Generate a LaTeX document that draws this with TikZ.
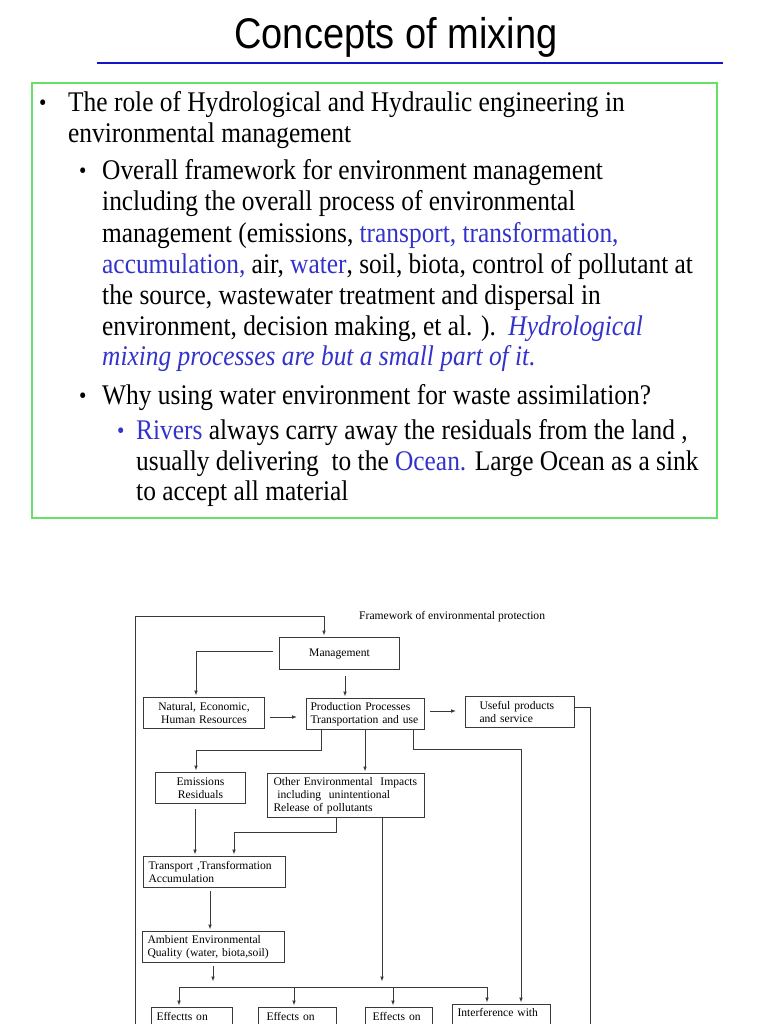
\documentclass[tikz,border=0pt]{standalone}
\usepackage{fontspec}
\setmainfont{Liberation Serif}
\newfontfamily\titlefont{Liberation Sans}
\usetikzlibrary{arrows.meta}
\definecolor{txtblue}{HTML}{3333CC}
\definecolor{ruleblue}{HTML}{1515C8}
\definecolor{framegreen}{HTML}{66E066}
\definecolor{lngray}{HTML}{3A3A3A}
\newcommand{\tallx}[1]{\scalebox{1}[1.12]{#1}}
\begin{document}
\begin{tikzpicture}[x=1pt,y=-1pt,
  bodyline/.style={anchor=base west, inner sep=0pt, font=\fontsize{25.4}{30}\selectfont},
  bul/.style={anchor=base west, inner sep=0pt, font=\fontsize{21}{24}\selectfont},
  dbox/.style={draw=lngray, line width=1pt, anchor=north west, inner ysep=0pt,
    font=\fontsize{11.6}{13.2}\selectfont, text=black},
  lbox/.style={dbox, align=left},
  cbox/.style={dbox, align=center},
  conn/.style={draw=lngray, line width=1pt},
  arr/.style={conn, -{Latex[length=5pt,width=3.8pt]}, shorten >=1.5pt}
]
\useasboundingbox (0,0) rectangle (768,1024);
\clip (0,0) rectangle (768,1024);
\fill[white] (0,0) rectangle (768,1024);

% title
\node[inner sep=0pt, font=\titlefont\fontsize{38}{44}\selectfont] (title) at (396,37) {\scalebox{1}[1.13]{Concepts of mixing}};
\coordinate (ruleL) at (97,63);
\coordinate (ruleR) at (723,63);
\draw[ruleblue, line width=2pt] (ruleL) -- (ruleR);

% text frame
\draw[framegreen, line width=1.3pt] (32,83) rectangle (717,518);

\node[bul] (b1) at (39,111) {\tallx{•}};
\node[bodyline] (l1) at (68,112) {\tallx{The role of Hydrological and Hydraulic engineering in}};
\node[bodyline] (l2) at (68,143) {\tallx{environmental management}};
\node[bul] (b2) at (79,179) {\tallx{•}};
\node[bodyline] (l3) at (102,180) {\tallx{Overall framework for environment management}};
\node[bodyline] (l4) at (102,211) {\tallx{including the overall process of environmental}};
\node[bodyline] (l5) at (102,242) {\tallx{management (emissions, \textcolor{txtblue}{transport, transformation,}}};
\node[bodyline] (l6) at (102,273) {\tallx{\textcolor{txtblue}{accumulation,} air, \textcolor{txtblue}{water}, soil, biota, control of pollutant at}};
\node[bodyline] (l7) at (102,304) {\tallx{the source, wastewater treatment and dispersal in}};
\node[bodyline] (l8) at (102,335) {\tallx{environment, decision making, et al. ).\ \ \textcolor{txtblue}{\itshape Hydrological}}};
\node[bodyline] (l9) at (102,365) {\tallx{\textcolor{txtblue}{\itshape mixing processes are but a small part of it.}}};
\node[bul] (b3) at (79,403) {\tallx{•}};
\node[bodyline] (l10) at (102,404) {\tallx{Why using water environment for waste assimilation?}};
\node[bul, text=txtblue] (b4) at (117,438) {\tallx{•}};
\node[bodyline] (l11) at (136,439) {\tallx{\textcolor{txtblue}{Rivers} always carry away the residuals from the land ,}};
\node[bodyline] (l12) at (136,470) {\tallx{usually delivering\ \ to the \textcolor{txtblue}{Ocean.} Large Ocean as a sink}};
\node[bodyline] (l13) at (136,500) {\tallx{to accept all material}};

% diagram caption
\node[anchor=west, inner sep=0pt, font=\fontsize{11.6}{13}\selectfont] (cap) at (359,617) {Framework of environmental protection};

% boxes
\node[cbox, minimum height=32pt, text width=116pt, inner xsep=2pt] (mgmt) at (279,637) {Management};
\node[cbox, minimum height=31pt, text width=117pt, inner xsep=2pt] (nat) at (143,697) {Natural, Economic,\\Human Resources};
\node[lbox, minimum height=31pt, text width=110pt, inner xsep=4pt] (prod) at (306,698) {Production Processes\\Transportation and use};
\node[lbox, minimum height=31pt, text width=81pt, inner xsep=14pt] (use) at (465,696) {Useful products\\and service};
\node[cbox, minimum height=31pt, text width=86pt, inner xsep=2pt] (emis) at (155,772) {Emissions\\Residuals};
\node[lbox, minimum height=44pt, text width=145pt, inner xsep=6pt] (other) at (267,773) {Other Environmental\ \ Impacts\\\ including\ \ unintentional\\Release of pollutants};
\node[lbox, minimum height=31pt, text width=132pt, inner xsep=5pt] (trans) at (143,856) {Transport ,Transformation\\Accumulation};
\node[lbox, minimum height=31pt, text width=132pt, inner xsep=5pt] (amb) at (142,931) {Ambient Environmental\\Quality (water, biota,soil)};
\node[lbox, text width=71pt, inner xsep=5pt, text height=10pt, text depth=30pt, inner ysep=3pt] (e1) at (151,1007) {Effectts on};
\node[lbox, text width=62pt, inner xsep=8pt, text height=10pt, text depth=30pt, inner ysep=3pt] (e2) at (258,1007) {Effects on};
\node[lbox, text width=53pt, inner xsep=7pt, text height=10pt, text depth=30pt, inner ysep=3pt] (e3) at (365,1007) {Effects on};
\node[lbox, text width=88pt, inner xsep=5pt, text height=10pt, text depth=30pt, inner ysep=2pt] (e4) at (452,1004) {Interference with};

% helper coordinates
\coordinate (topc) at (324,616);
\coordinate (loopbot) at (135,1060);
\coordinate (rightbot) at (590,1060);
\coordinate (x196) at (196,0);
\coordinate (x345) at (345,0);
\coordinate (y717) at (0,717);
\coordinate (y711) at (0,711);
\coordinate (y707) at (0,707);
\coordinate (x321) at (321,0);
\coordinate (x365) at (365,0);
\coordinate (x413) at (413,0);
\coordinate (x521) at (521,0);
\coordinate (x195) at (195,0);
\coordinate (x336) at (336,0);
\coordinate (x234) at (234,0);
\coordinate (x210) at (210,0);
\coordinate (jmid) at (382,983);
\coordinate (jamb) at (213,983);
\coordinate (busL) at (179,987);
\coordinate (busR) at (487,987);
\coordinate (bus2) at (294,987);
\coordinate (bus3) at (393,987);

% connectors
\draw[arr] (loopbot) |- (topc) -- (mgmt.north -| topc);
\draw[arr] (mgmt.west) ++(-6,-2) -| (nat.north -| x196);
\draw[arr, shorten <=6pt] (mgmt.south -| x345) -- (prod.north -| x345);
\draw[arr, shorten <=5pt, shorten >=9pt] (nat.east |- y717) -- (prod.west |- y717);
\draw[arr, shorten <=5pt, shorten >=9pt] (prod.east |- y711) -- (use.west |- y711);
\draw[conn] (use.east |- y707) -| (rightbot);
\draw[arr] (prod.south -| x321) -- ++(0,20) -| (emis.north -| x196);
\draw[arr] (prod.south -| x365) -- (other.north -| x365);
\draw[arr] (prod.south -| x413) -- ++(0,19) -| (e4.north -| x521);
\draw[arr, shorten <=5pt] (emis.south -| x195) -- (trans.north -| x195);
\draw[arr] (other.south -| x336) -- ++(0,14) -| (trans.north -| x234);
\draw[arr] (other.south -| jmid) -- (jmid);
\draw[arr, shorten <=3pt] (trans.south -| x210) -- (amb.north -| x210);
\draw[arr, shorten <=3pt] (amb.south -| jamb) -- (jamb);
\draw[conn] (busL) -- (busR);
\draw[arr] (busL) -- (e1.north -| busL);
\draw[arr] (bus2) -- (e2.north -| bus2);
\draw[arr] (bus3) -- (e3.north -| bus3);
\draw[arr] (busR) -- (e4.north -| busR);
\end{tikzpicture}
\end{document}
